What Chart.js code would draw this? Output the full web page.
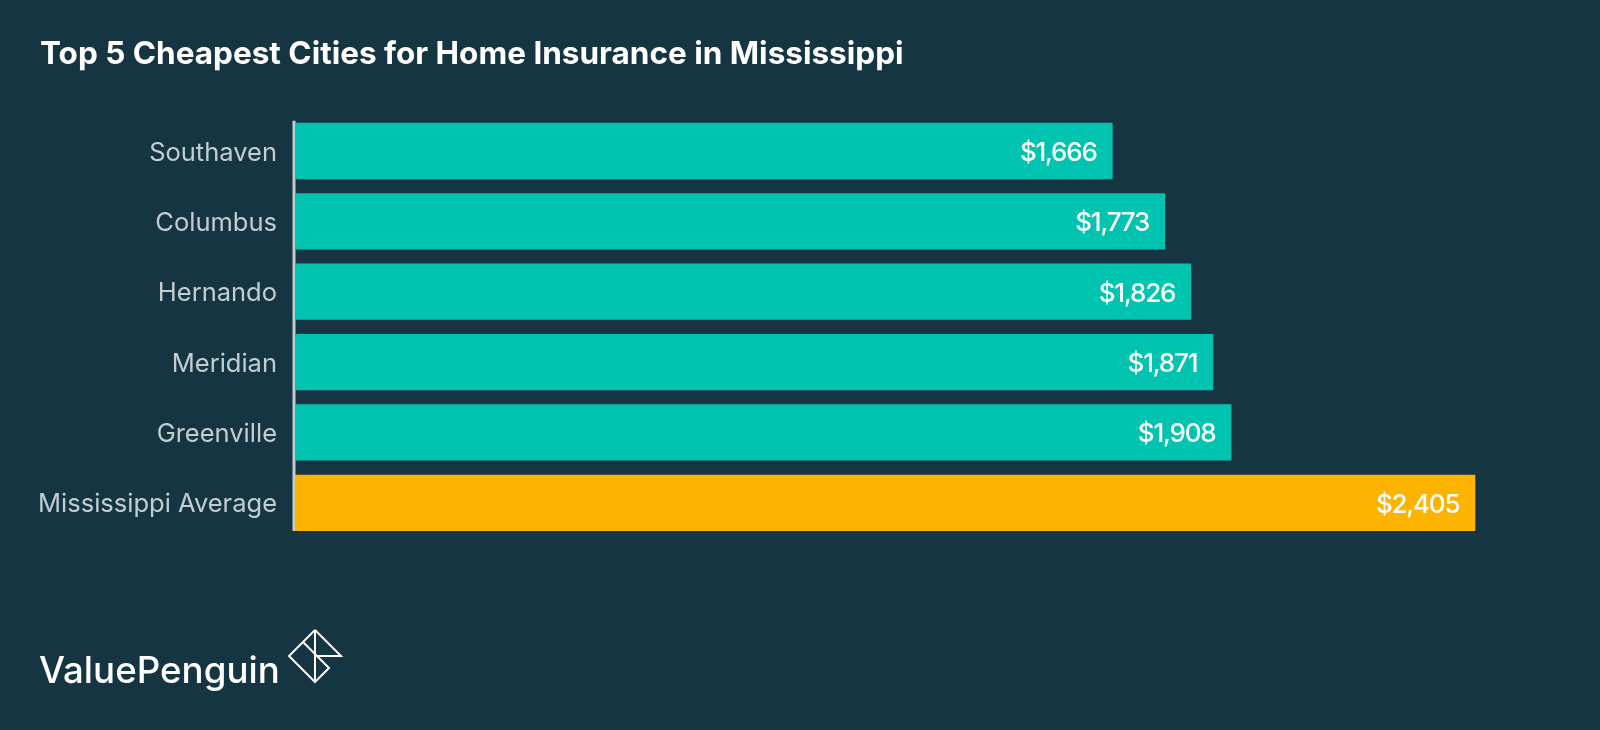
<!DOCTYPE html>
<html>
<head>
<meta charset="utf-8">
<style>
  html, body { margin: 0; padding: 0; background: #153543; }
  #wrap { width: 1600px; height: 730px; }
</style>
<script src="https://cdn.jsdelivr.net/npm/chart.js@4"></script>
</head>
<body>
<div id="wrap"><canvas id="chart"></canvas></div>
<script>
const titleText = "Top 5 Cheapest Cities for Home Insurance in Mississippi";
const cities = ["Southaven", "Columbus", "Hernando", "Meridian", "Greenville", "Mississippi Average"];
const costs = [1666, 1773, 1826, 1871, 1908, 2405];
const barColors = ["#00c4b0", "#00c4b0", "#00c4b0", "#00c4b0", "#00c4b0", "#fcb400"];
const fontName = "Inter, 'Noto Sans', sans-serif";

// dollar labels inside the end of each bar
const valueLabels = {
  id: "valueLabels",
  afterDatasetsDraw(chart) {
    const ctx = chart.ctx;
    ctx.save();
    ctx.fillStyle = "#ffffff";
    ctx.font = "500 26px " + fontName;
    ctx.letterSpacing = "-1.2px";
    ctx.textAlign = "right";
    ctx.textBaseline = "middle";
    chart.getDatasetMeta(0).data.forEach((bar, i) => {
      ctx.fillText("$" + costs[i].toLocaleString("en-US"), bar.x - 16, bar.y + 2);
    });
    ctx.restore();
  }
};

// the axis line only runs from just above the first bar to the end of the last one
const axisLine = {
  id: "axisLine",
  beforeDatasetsDraw(chart) {
    const bars = chart.getDatasetMeta(0).data;
    const first = bars[0].getProps(["y", "height"]);
    const last = bars[bars.length - 1].getProps(["y", "height"]);
    const ctx = chart.ctx;
    ctx.save();
    ctx.strokeStyle = "#c3ccd0";
    ctx.lineWidth = 3;
    ctx.beginPath();
    ctx.moveTo(chart.chartArea.left - 1, first.y - first.height / 2 - 2);
    ctx.lineTo(chart.chartArea.left - 1, last.y + last.height / 2);
    ctx.stroke();
    ctx.restore();
  }
};

// ValuePenguin wordmark and diamond logo
const brandLogo = {
  id: "brandLogo",
  afterDraw(chart) {
    const ctx = chart.ctx;
    ctx.save();
    ctx.fillStyle = "#ffffff";
    ctx.font = "500 36.7px " + fontName;
    ctx.textAlign = "left";
    ctx.textBaseline = "alphabetic";
    ctx.fillText("ValuePenguin", 39, 683);
    ctx.strokeStyle = "#ffffff";
    ctx.lineWidth = 2;
    ctx.beginPath();
    ctx.moveTo(315, 630); ctx.lineTo(341, 656); ctx.lineTo(315, 656);
    ctx.moveTo(315, 630); ctx.lineTo(289, 656); ctx.lineTo(315, 682); ctx.lineTo(329, 668); ctx.lineTo(303, 642);
    ctx.moveTo(315, 630); ctx.lineTo(315, 682);
    ctx.stroke();
    ctx.restore();
  }
};

new Chart(document.getElementById("chart"), {
  type: "bar",
  data: {
    labels: cities,
    datasets: [{
      data: costs,
      backgroundColor: barColors,
      borderWidth: 0,
      barPercentage: 0.8,
      categoryPercentage: 1
    }]
  },
  plugins: [valueLabels, axisLine, brandLogo],
  options: {
    indexAxis: "y",
    responsive: true,
    maintainAspectRatio: false,
    animation: false,
    layout: { padding: { left: 40, right: 29, top: 0, bottom: 192 } },
    plugins: {
      legend: { display: false },
      tooltip: { enabled: false },
      title: {
        display: true,
        text: titleText,
        align: "start",
        color: "#ffffff",
        font: { family: fontName, size: 31.5, weight: "700", lineHeight: 1.2 },
        padding: { top: 36, bottom: 42 }
      }
    },
    scales: {
      x: { display: false, min: 0, max: 2600, grid: { display: false } },
      y: {
        afterFit(scale) { scale.width = 255; },
        grid: { display: false, drawTicks: false },
        border: { display: false },
        ticks: {
          color: "#c3ced2",
          padding: 18,
          labelOffset: 2,
          font: { family: fontName, size: 25.5, weight: "400" }
        }
      }
    }
  }
});
</script>
</body>
</html>
